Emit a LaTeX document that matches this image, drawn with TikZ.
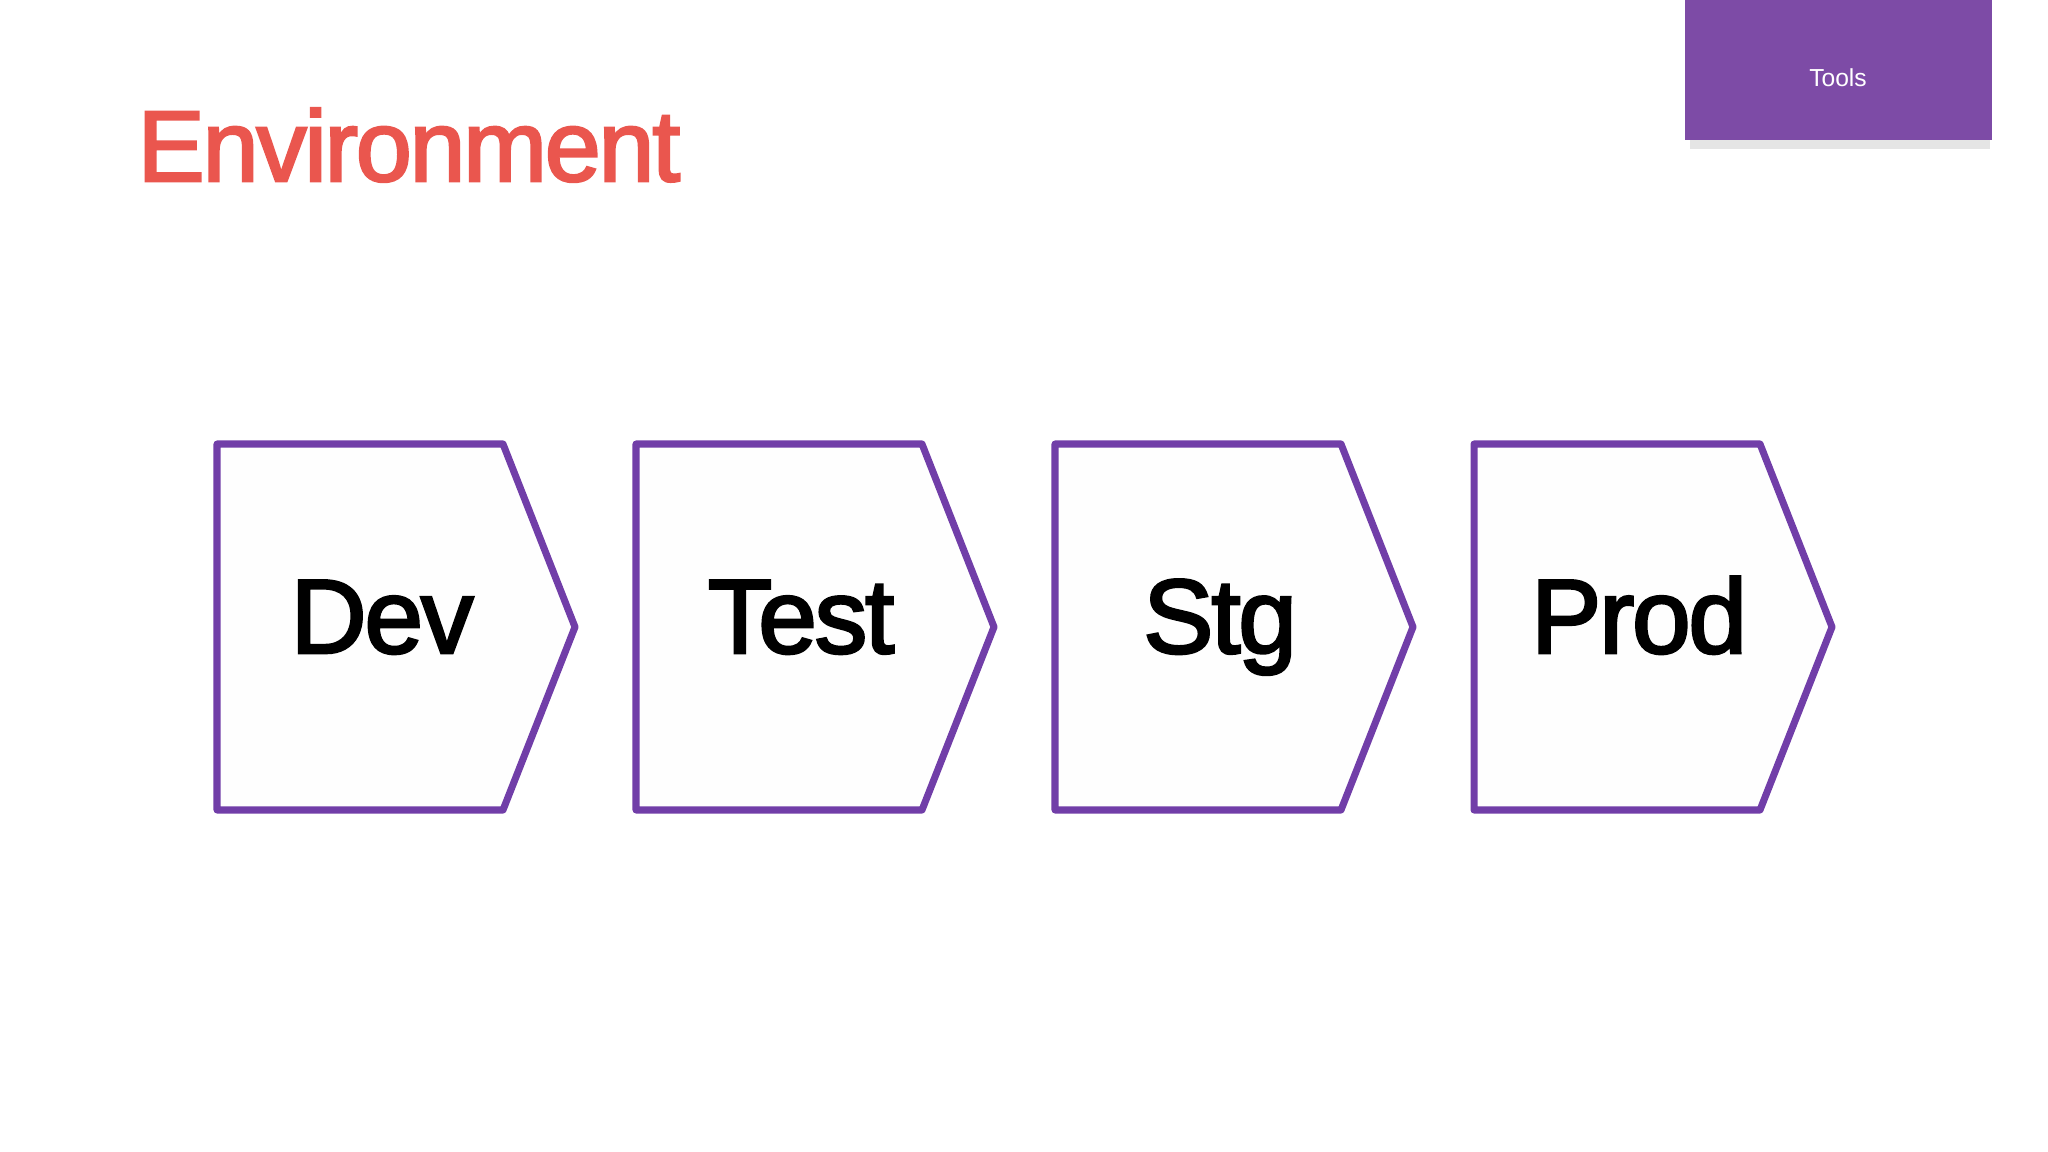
\documentclass[tikz,border=0pt]{standalone}
\usepackage{fontspec}
\setmainfont{Liberation Sans}
\newfontfamily\tightfont[FakeBold=2.5, LetterSpace=-2.2]{Liberation Sans}
\usetikzlibrary{positioning}

\definecolor{titlered}{RGB}{234,86,78}
\definecolor{stagepurple}{RGB}{113,62,168}
\definecolor{toolspurple}{RGB}{125,75,166}

\begin{document}
\begin{tikzpicture}[
    x=0.01cm, y=-0.01cm,
    stage/.style = {draw=stagepurple, line width=2pt, line join=round, fill=white!99.5!black},
    stagetext/.style = {anchor=base, inner sep=0pt, font=\tightfont\fontsize{30pt}{30pt}\selectfont},
    title/.style = {anchor=base west, inner sep=0pt, text=titlered, font=\tightfont\fontsize{28.6pt}{28.6pt}\selectfont},
    toolbox/.style = {fill=toolspurple, draw=none}
]
\useasboundingbox (0,0) rectangle (2048,1152);

% Title
\node[title] (title) at (137,181) {Environment};

% Tools tab
\fill[black!10] (1690,139) rectangle (1990,149);
\fill[toolbox] (1685,0) rectangle (1992,140);
\node[text=white, font=\fontsize{7pt}{7pt}\selectfont] (tools) at (1838,78) {Tools};

% Stages
\foreach \name/\lbl [count=\i from 0] in {dev/Dev, test/Test, stg/Stg, prod/Prod} {
    \coordinate (\name-nw) at (217+419*\i,444);
    \draw[stage] (\name-nw) -- ++(286,0) -- ++(72,183) -- ++(-72,183) -- ++(-286,0) -- cycle;
    \node[stagetext] (\name) at ([shift={(165,209)}]\name-nw) {\lbl};
}

\end{tikzpicture}
\end{document}
